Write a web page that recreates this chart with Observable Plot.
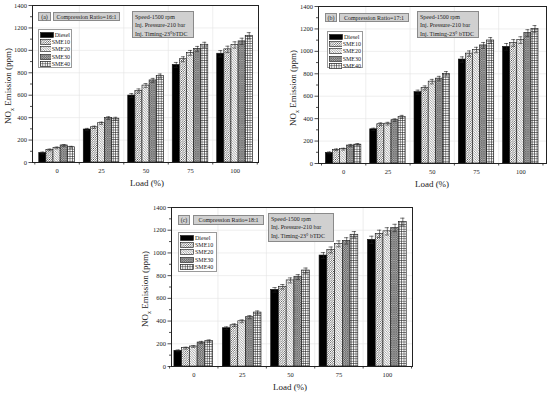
<!DOCTYPE html>
<html>
<head>
<meta charset="utf-8">
<script src="https://cdn.jsdelivr.net/npm/d3@7"></script>
<script src="https://cdn.jsdelivr.net/npm/@observablehq/plot@0.6"></script>
<style>
  html, body { margin: 0; padding: 0; background: #fff; }
  #root { position: relative; width: 550px; height: 395px; overflow: hidden; font-family: "Liberation Serif", "Times New Roman", serif; }
  .panel { position: absolute; }
  .ylab { position: absolute; font-size: 9px; white-space: nowrap; transform-origin: 0 0; transform: rotate(-90deg); color: #222; }
  .ylab sub { font-size: 6px; }
  .xlab { position: absolute; font-size: 9px; white-space: nowrap; transform: translate(-50%, -50%); color: #222; }
  .box { position: absolute; background: #d0d0d0; border: 1px solid #8a8a8a; font-size: 6px; color: #222; line-height: 8.5px; padding: 0 2px; white-space: nowrap; box-sizing: border-box; }
  .legend { position: absolute; background: #fff; border: 1px solid #9a9a9a; font-size: 6px; color: #222; box-sizing: border-box; padding: 1px 1px; }
  .legend .row { display: flex; align-items: center; height: 7.4px; }
  .legend svg { margin-right: 1px; }
</style>
</head>
<body>
<svg width="0" height="0" style="position:absolute">
  <defs>
    <pattern id="pSME10" patternUnits="userSpaceOnUse" width="2.2" height="2.2">
      <rect width="2.2" height="2.2" fill="#fff"/>
      <path d="M0,2.2 L2.2,0 M-0.55,0.55 L0.55,-0.55 M1.65,2.75 L2.75,1.65" stroke="#333" stroke-width="0.65"/>
    </pattern>
    <pattern id="pSME20" patternUnits="userSpaceOnUse" width="2.4" height="2.4">
      <rect width="2.4" height="2.4" fill="#fff"/>
      <path d="M0,0 L2.4,2.4 M-0.6,1.8 L0.6,3 M1.8,-0.6 L3,0.6" stroke="#666" stroke-width="0.6"/>
    </pattern>
    <pattern id="pSME30" patternUnits="userSpaceOnUse" width="2.2" height="2.2">
      <rect width="2.2" height="2.2" fill="#b0b0b0"/>
      <path d="M0,0 L2.2,2.2 M0,2.2 L2.2,0" stroke="#444" stroke-width="0.45"/>
    </pattern>
    <pattern id="pSME40" patternUnits="userSpaceOnUse" width="2.4" height="2.4">
      <rect width="2.4" height="2.4" fill="#fff"/>
      <path d="M0,0.3 L2.4,0.3 M0.3,0 L0.3,2.4" stroke="#222" stroke-width="0.6"/>
    </pattern>
  </defs>
</svg>
<div id="root"></div>
<script>
// ---- data ----
const loads = [0, 25, 50, 75, 100];
const series = ["Diesel", "SME10", "SME20", "SME30", "SME40"];
const seriesFills = ["#000", "url(#pSME10)", "url(#pSME20)", "url(#pSME30)", "url(#pSME40)"];

// NOx (ppm), rows = load, columns = series
const noxA = [
  [85, 112, 130, 152, 136],
  [294, 314, 350, 396, 391],
  [597, 638, 686, 732, 771],
  [870, 921, 977, 1013, 1050],
  [970, 1009, 1048, 1080, 1130]
];
const noxB = [
  [95, 122, 128, 160, 168],
  [305, 350, 355, 386, 415],
  [636, 674, 730, 757, 800],
  [927, 980, 1012, 1053, 1097],
  [1040, 1075, 1100, 1163, 1200]
];
const noxC = [
  [138, 162, 176, 211, 224],
  [337, 363, 398, 434, 475],
  [675, 702, 758, 787, 845],
  [977, 1026, 1080, 1106, 1160],
  [1115, 1168, 1190, 1220, 1272]
];
// error bar half-lengths (ppm)
const errA = [
  [8, 8, 8, 8, 8],
  [10, 10, 10, 12, 12],
  [18, 18, 18, 18, 18],
  [22, 22, 22, 22, 22],
  [28, 28, 28, 28, 28]
];
const errB = [
  [8, 8, 8, 10, 10],
  [10, 12, 12, 12, 14],
  [18, 18, 20, 20, 20],
  [24, 24, 24, 26, 26],
  [30, 30, 30, 30, 30]
];
const errC = [
  [8, 8, 8, 10, 10],
  [12, 12, 12, 14, 14],
  [20, 20, 22, 22, 22],
  [26, 26, 26, 28, 28],
  [32, 32, 32, 32, 34]
];

const panelLabels = ["(a)", "(b)", "(c)"];
const ratioLabels = ["Compression Ratio=16:1", "Compression Ratio=17:1", "Compression Ratio=18:1"];
const condLines = [
  ["Speed-1500 rpm", "Inj. Pressure-210 bar", "Inj. Timing-23°bTDC"],
  ["Speed-1500 rpm", "Inj. Pressure-210 bar", "Inj. Timing-23° bTDC"],
  ["Speed-1500 rpm", "Inj. Pressure-210 bar", "Inj. Timing-23° bTDC"]
];
const xTitle = "Load (%)";
const yTicks = [0, 200, 400, 600, 800, 1000, 1200, 1400];
const yMinor = [100, 300, 500, 700, 900, 1100, 1300];
const xBounds = [-12.5, 12.5, 37.5, 62.5, 87.5, 112.5];

// ---- layout ----
const panels = [
  {nox: noxA, err: errA, left: 0, top: 0, width: 275, height: 195, mL: 32, mR: 17, mT: 5, mB: 33, xDom: [-13.8, 113.2],
   yl: {x: 3, y: 124}, xl: {x: 147, y: 183}, lab: [38, 12, 13, 9], ratio: [53, 12, 67, 9], cond: [132, 11, 62, 27], leg: [38, 29, 34, 39]},
  {nox: noxB, err: errB, left: 275, top: 0, width: 275, height: 195, mL: 43, mR: 4, mT: 6, mB: 32, xDom: [-14.2, 114.5],
   yl: {x: 288, y: 126}, xl: {x: 432, y: 184}, lab: [325, 13, 12, 9], ratio: [339, 13, 70, 9], cond: [417, 11, 62, 27], leg: [327, 31, 36, 37]},
  {nox: noxC, err: errC, left: 130, top: 200, width: 290, height: 195, mL: 41, mR: 8, mT: 7, mB: 29, xDom: [-11.5, 113],
   yl: {x: 140, y: 327}, xl: {x: 290, y: 387}, lab: [178, 215, 12, 10], ratio: [193, 215, 71, 10], cond: [268, 213, 66, 29], leg: [178, 232, 39, 40]}
];

const root = document.getElementById("root");
const barW = 4;
const center = d => d.load + (d.j - 2) * barW;

panels.forEach((p, k) => {
  const rows = loads.flatMap((l, i) => series.map((s, j) => ({load: l, series: s, j, value: p.nox[i][j], err: p.err[i][j]})));
  const chart = Plot.plot({
    width: p.width,
    height: p.height,
    marginLeft: p.mL, marginRight: p.mR, marginTop: p.mT, marginBottom: p.mB,
    style: {fontFamily: "'Liberation Serif', 'Times New Roman', serif", fontSize: "6.5px", color: "#222", background: "transparent"},
    x: {domain: p.xDom},
    y: {domain: [0, 1400]},
    color: {domain: series, range: seriesFills},
    marks: [
      Plot.gridX(xBounds.slice(1, -1), {stroke: "#e2e2e2", strokeOpacity: 1, strokeWidth: 0.6}),
      Plot.gridY(yTicks.slice(1, -1), {stroke: "#e2e2e2", strokeOpacity: 1, strokeWidth: 0.6}),
      Plot.rectY(rows, {x1: d => center(d) - barW / 2, x2: d => center(d) + barW / 2, y1: 0, y2: "value", fill: "series", stroke: "#111", strokeWidth: 0.6}),
      Plot.ruleX(rows, {x: center, y1: d => d.value - d.err, y2: d => d.value + d.err, stroke: "#222", strokeWidth: 0.6}),
      Plot.ruleY(rows, {y: d => d.value + d.err, x1: d => center(d) - 1.1, x2: d => center(d) + 1.1, stroke: "#222", strokeWidth: 0.6}),
      Plot.ruleY(rows, {y: d => d.value - d.err, x1: d => center(d) - 1.1, x2: d => center(d) + 1.1, stroke: "#222", strokeWidth: 0.6}),
      Plot.axisY({ticks: yTicks, tickSize: 3.5, tickPadding: 2, tickFormat: d => String(d), label: null, strokeWidth: 0.8}),
      Plot.axisY({ticks: yMinor, tickSize: 2, tickFormat: () => "", label: null, strokeWidth: 0.8}),
      Plot.axisX({ticks: loads, tickSize: 0, tickPadding: 6, tickFormat: d => String(d), label: null}),
      Plot.axisX({ticks: xBounds, tickSize: 2.5, tickFormat: () => "", label: null, strokeWidth: 0.8}),
      Plot.frame({stroke: "#222", strokeWidth: 1})
    ]
  });
  chart.classList.add("panel");
  chart.style.left = p.left + "px";
  chart.style.top = p.top + "px";
  root.appendChild(chart);

  const yl = document.createElement("div");
  yl.className = "ylab";
  yl.innerHTML = "NO<sub>x</sub> Emission (ppm)";
  yl.style.left = p.yl.x + "px";
  yl.style.top = p.yl.y + "px";
  root.appendChild(yl);

  const xl = document.createElement("div");
  xl.className = "xlab";
  xl.textContent = xTitle;
  xl.style.left = p.xl.x + "px";
  xl.style.top = p.xl.y + "px";
  root.appendChild(xl);

  const mk = (cls, r, html) => {
    const d = document.createElement("div");
    d.className = cls;
    d.style.left = r[0] + "px"; d.style.top = r[1] + "px";
    d.style.width = r[2] + "px"; d.style.height = r[3] + "px";
    d.innerHTML = html;
    root.appendChild(d);
    return d;
  };
  const lb = mk("box", p.lab, panelLabels[k]);
  lb.style.textAlign = "center"; lb.style.padding = "0";
  const rb = mk("box", p.ratio, ratioLabels[k]);
  rb.style.textAlign = "center"; rb.style.padding = "0";
  const cb = mk("box", p.cond, condLines[k].map(s => `<div>${s}</div>`).join(""));
  cb.style.lineHeight = "8.5px"; cb.style.paddingTop = "0.5px";
  mk("legend", p.leg, series.map((s, j) =>
    `<div class="row"><svg width="14" height="6"><rect x="0.5" y="0.5" width="13" height="5" fill="${seriesFills[j]}" stroke="#111" stroke-width="0.6"/></svg><span>${s}</span></div>`).join(""));
});
</script>
</body>
</html>
